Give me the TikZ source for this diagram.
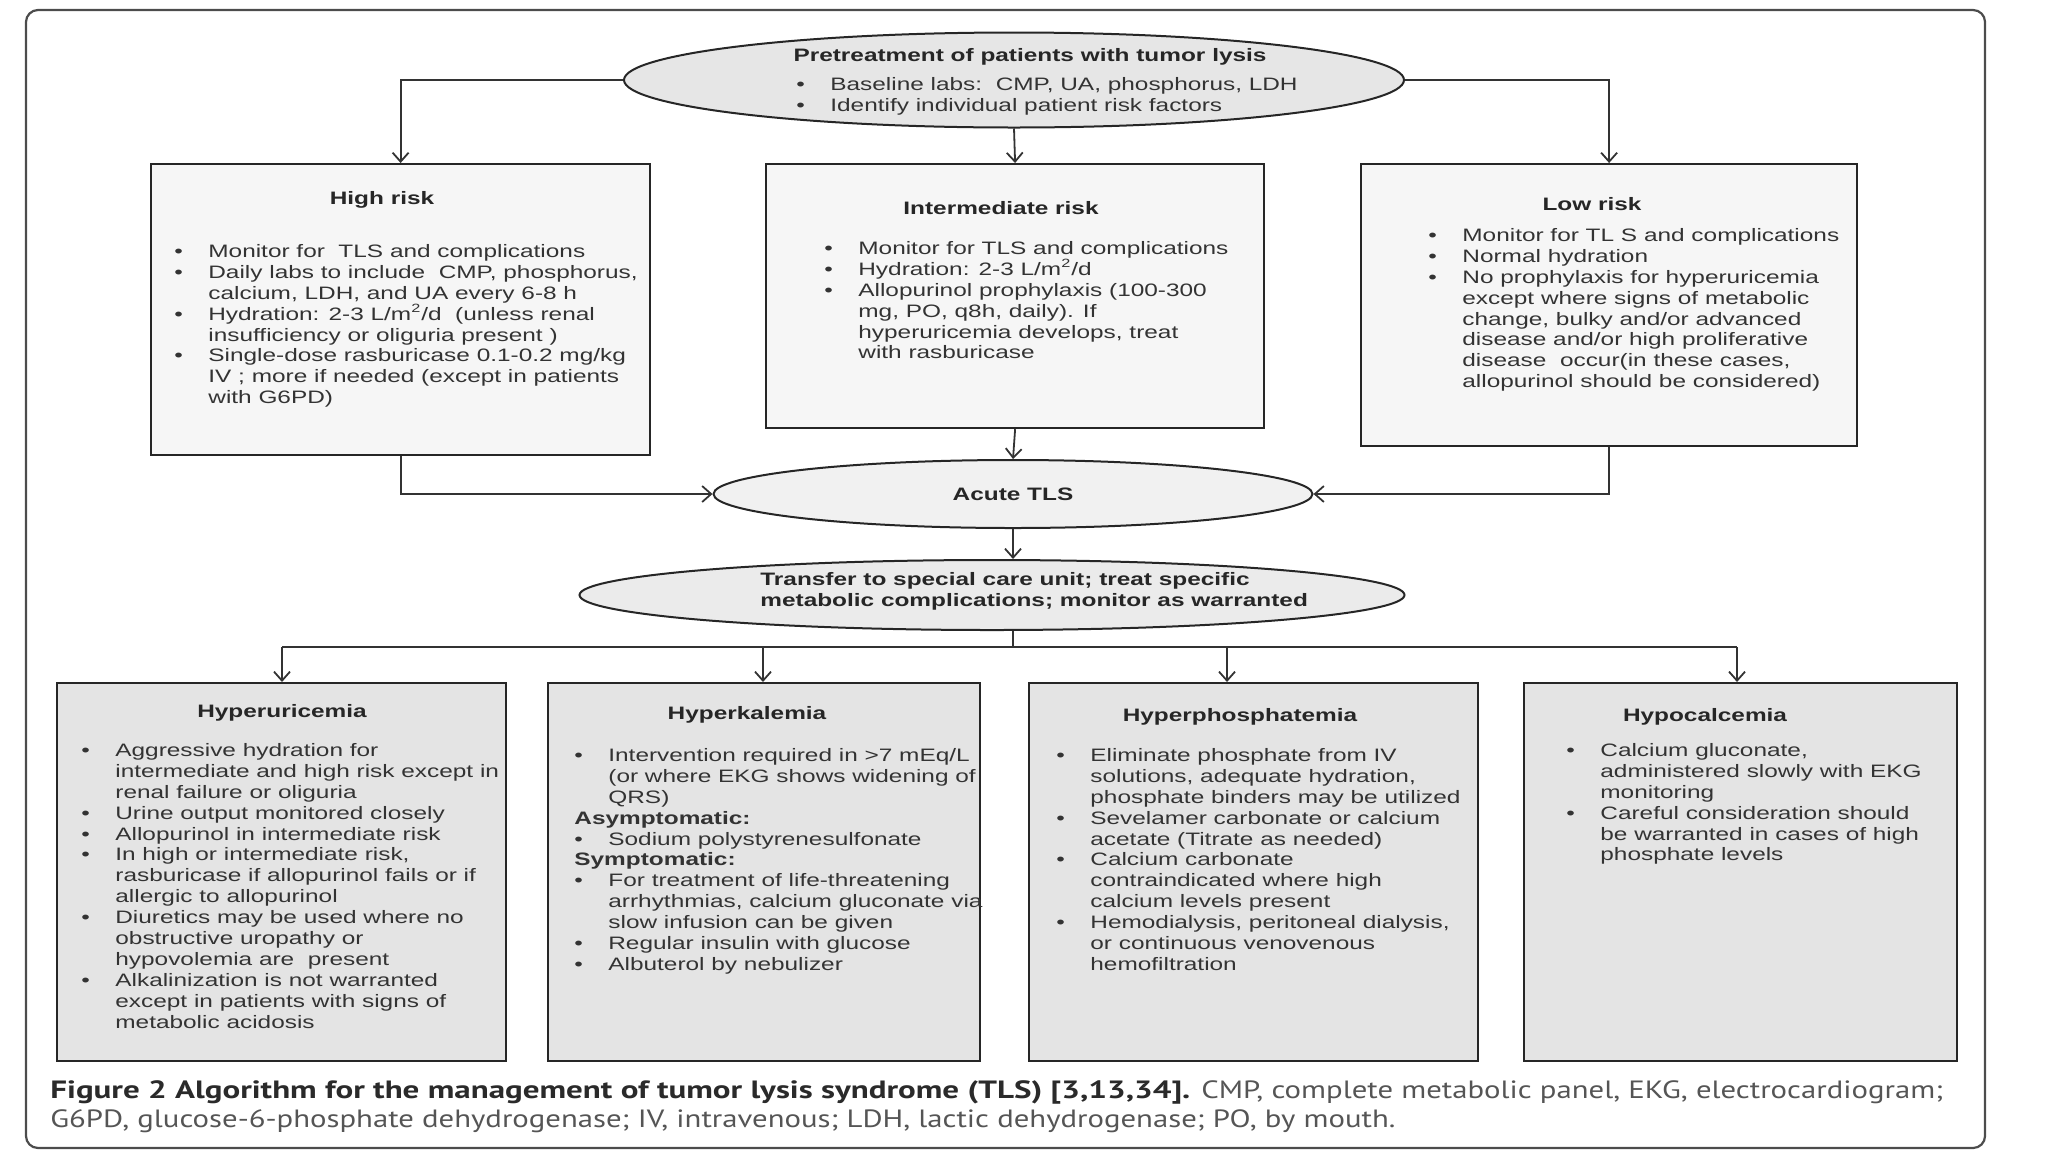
\documentclass[tikz,border=0pt]{standalone}
\usepackage{fontspec}
\setmainfont{Liberation Sans}[FakeStretch=1.355]
\newfontfamily\capfont{PT Sans}[FakeStretch=1.23]
\newfontfamily\capbold{PT Sans}[FakeStretch=1.32]
\usetikzlibrary{arrows.meta,shapes.geometric}
\definecolor{txtcol}{HTML}{333333}
\definecolor{topfill}{HTML}{F6F6F6}
\definecolor{botfill}{HTML}{E4E4E4}
\definecolor{prefill}{HTML}{E6E6E6}
\definecolor{acufill}{HTML}{F1F1F1}
\definecolor{trafill}{HTML}{EBEBEB}
\definecolor{capdark}{HTML}{2A2A2A}
\definecolor{capgray}{HTML}{555555}
\newcommand\bul{\makebox[17pt][l]{\textbullet}}
\newcommand\ind{\hspace*{17pt}}
\tikzset{
  frame/.style={draw=black!70, line width=1.1pt, rounded corners=6pt},
  topbox/.style={draw=black!85, line width=1.1pt, fill=topfill, inner sep=0pt, anchor=north west},
  botbox/.style={draw=black!85, line width=1.1pt, fill=botfill, inner sep=0pt, anchor=north west},
  oval/.style={ellipse, draw=black!85, line width=1pt, inner sep=0pt},
  body/.style={font=\fontsize{9}{10.45}\selectfont, text=txtcol, align=left, inner sep=0pt, anchor=north west},
  ttl/.style={font=\fontsize{9}{10.45}\selectfont\bfseries, text=black!85, inner sep=0pt},
  conn/.style={draw=black!80, line width=0.9pt},
  arr/.style={conn, -{Straight Barb[length=4.5pt,width=8pt]}},
  capt/.style={font=\capfont\fontsize{12.5}{14.6}\selectfont, align=left, inner sep=0pt, anchor=north west}
}
\begin{document}
\begin{tikzpicture}[x=0.5pt,y=-0.5pt]
\useasboundingbox (0,0) rectangle (2048,1152);
\draw[frame] (26,10) rectangle (1985,1148);

% ellipses
\node[oval, fill=prefill, minimum width=390pt, minimum height=47.5pt] (pre) at (1014,80) {};
\node[oval, fill=acufill, minimum width=299.5pt, minimum height=34pt, font=\fontsize{9}{10.45}\selectfont\bfseries, text=black!85] (acute) at (1013,494) {Acute TLS};
\node[oval, fill=trafill, minimum width=412.5pt, minimum height=35pt] (transfer) at (992,595) {};

% boxes
\node[topbox, minimum width=249.5pt, minimum height=145.5pt] (high) at (150,163) {};
\node[topbox, minimum width=249pt, minimum height=132pt] (int) at (765,163) {};
\node[topbox, minimum width=248pt, minimum height=141pt] (low) at (1360,163) {};
\node[botbox, minimum width=224.5pt, minimum height=189pt] (uric) at (56,682) {};
\node[botbox, minimum width=216pt, minimum height=189pt] (kal) at (547,682) {};
\node[botbox, minimum width=224.5pt, minimum height=189pt] (phos) at (1028,682) {};
\node[botbox, minimum width=216.5pt, minimum height=189pt] (cal) at (1523,682) {};

% texts
\node[ttl] (pretitle) at (1030,57) {Pretreatment of patients with tumor lysis};
\node[body] (pretext) at (796,77) {\bul Baseline labs:\ \ CMP, UA, phosphorus, LDH\\
\bul Identify individual patient risk factors};

\node[ttl] (hightitle) at (382,200) {High risk};
\node[body] (hightext) at (174,244) {\bul Monitor for\ \ TLS and complications\\
\bul Daily labs to include\ \ CMP, phosphorus,\\
\ind calcium, LDH, and UA every 6-8 h\\
\bul Hydration: 2-3 L/m\textsuperscript{2}/d\ \ (unless renal\\
\ind insufficiency or oliguria present )\\
\bul Single-dose rasburicase 0.1-0.2 mg/kg\\
\ind IV ; more if needed (except in patients\\
\ind with G6PD)};

\node[ttl] (inttitle) at (1001,208) {Intermediate risk};
\node[body] (inttext) at (824,241) {\bul Monitor for TLS and complications\\
\bul Hydration: 2-3 L/m\textsuperscript{2}/d\\
\bul Allopurinol prophylaxis (100-300\\
\ind mg, PO, q8h, daily). If\\
\ind hyperuricemia develops, treat\\
\ind with rasburicase};

\node[ttl] (lowtitle) at (1592,204) {Low risk};
\node[body] (lowtext) at (1428,228) {\bul Monitor for TL S and complications\\
\bul Normal hydration\\
\bul No prophylaxis for hyperuricemia\\
\ind except where signs of metabolic\\
\ind change, bulky and/or advanced\\
\ind disease and/or high proliferative\\
\ind disease\ \ occur(in these cases,\\
\ind allopurinol should be considered)};

\node[body, font=\fontsize{9}{10.45}\selectfont\bfseries, text=black!85] (tratext) at (760,572) {Transfer to special care unit; treat specific\\
metabolic complications; monitor as warranted};

\node[ttl] (urictitle) at (282,713) {Hyperuricemia};
\node[body] (urictext) at (81,743) {\bul Aggressive hydration for\\
\ind intermediate and high risk except in\\
\ind renal failure or oliguria\\
\bul Urine output monitored closely\\
\bul Allopurinol in intermediate risk\\
\bul In high or intermediate risk,\\
\ind rasburicase if allopurinol fails or if\\
\ind allergic to allopurinol\\
\bul Diuretics may be used where no\\
\ind obstructive uropathy or\\
\ind hypovolemia are\ \ present\\
\bul Alkalinization is not warranted\\
\ind except in patients with signs of\\
\ind metabolic acidosis};

\node[ttl] (kaltitle) at (747,715) {Hyperkalemia};
\node[body] (kaltext) at (574,748) {\bul Intervention required in >7 mEq/L\\
\ind (or where EKG shows widening of\\
\ind QRS)\\
\textbf{Asymptomatic:}\\
\bul Sodium polystyrenesulfonate\\
\textbf{Symptomatic:}\\
\bul For treatment of life-threatening\\
\ind arrhythmias, calcium gluconate via\\
\ind slow infusion can be given\\
\bul Regular insulin with glucose\\
\bul Albuterol by nebulizer};

\node[ttl] (phostitle) at (1240,717) {Hyperphosphatemia};
\node[body] (phostext) at (1056,748) {\bul Eliminate phosphate from IV\\
\ind solutions, adequate hydration,\\
\ind phosphate binders may be utilized\\
\bul Sevelamer carbonate or calcium\\
\ind acetate (Titrate as needed)\\
\bul Calcium carbonate\\
\ind contraindicated where high\\
\ind calcium levels present\\
\bul Hemodialysis, peritoneal dialysis,\\
\ind or continuous venovenous\\
\ind hemofiltration};

\node[ttl] (caltitle) at (1705,717) {Hypocalcemia};
\node[body] (caltext) at (1566,743) {\bul Calcium gluconate,\\
\ind administered slowly with EKG\\
\ind monitoring\\
\bul Careful consideration should\\
\ind be warranted in cases of high\\
\ind phosphate levels};

% connectors
\draw[arr] (pre.west) -| (high.north);
\draw[arr] (pre.east) -| (low.north);
\draw[arr] (pre.south) -- (int.north);
\draw[arr] (high.south) |- (acute.west);
\draw[arr] (low.south) |- (acute.east);
\draw[arr] (int.south) -- (acute.north);
\draw[arr] (acute.south) -- (acute.south |- transfer.north);
\coordinate (busC) at (1013,647);
\coordinate (busL) at (282,647);
\coordinate (busR) at (1737,647);
\coordinate (busP) at (1227,647);
\coordinate (busK) at (763,647);
\draw[conn] (acute.south |- transfer.south) -- (busC);
\draw[conn] (busL) -- (busR);
\draw[arr] (busL) -- (busL |- uric.north);
\draw[arr] (busK) -- (busK |- kal.north);
\draw[arr] (busP) -- (busP |- phos.north);
\draw[arr] (busR) -- (busR |- cal.north);

% caption
\node[capt] (caption) at (50,1080) {{\capbold\bfseries\color{capdark}Figure 2 Algorithm for the management of tumor lysis syndrome (TLS) [3,13,34].} {\color{capgray}CMP, complete metabolic panel, EKG, electrocardiogram;}\\
{\color{capgray}G6PD, glucose-6-phosphate dehydrogenase; IV, intravenous; LDH, lactic dehydrogenase; PO, by mouth.}};
\end{tikzpicture}
\end{document}
